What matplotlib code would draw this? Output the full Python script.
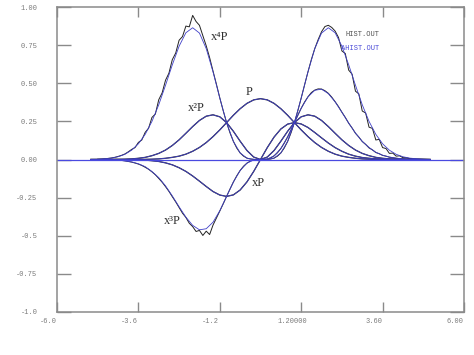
import numpy as np
import matplotlib
matplotlib.use('Agg')
import matplotlib.pyplot as plt
from matplotlib.transforms import ScaledTranslation

# analytic curves (AHIST.OUT), x from -5 to 5 step 0.2
ax_x = np.round(np.linspace(-5.0, 5.0, 51), 1)
p_vals = [0.000, 0.000, 0.000, 0.000, 0.000, 0.000, 0.000, 0.001, 0.001, 0.002,
          0.004, 0.008, 0.014, 0.022, 0.035, 0.054, 0.079, 0.111, 0.150, 0.194,
          0.242, 0.290, 0.333, 0.368, 0.391, 0.399, 0.391, 0.368, 0.333, 0.290,
          0.242, 0.194, 0.150, 0.111, 0.079, 0.054, 0.035, 0.022, 0.014, 0.008,
          0.004, 0.002, 0.001, 0.001, 0.000, 0.000, 0.000, 0.000, 0.000, 0.000,
          0.000]
xp_vals = [-0.000, -0.000, -0.000, -0.000, -0.000, -0.001, -0.001, -0.002, -0.004, -0.008,
           -0.013, -0.022, -0.035, -0.054, -0.078, -0.108, -0.142, -0.177, -0.210, -0.233,
           -0.242, -0.232, -0.200, -0.147, -0.078, 0.000, 0.078, 0.147, 0.200, 0.232,
           0.242, 0.233, 0.210, 0.177, 0.142, 0.108, 0.078, 0.054, 0.035, 0.022,
           0.013, 0.008, 0.004, 0.002, 0.001, 0.001, 0.000, 0.000, 0.000, 0.000,
           0.000]
x2p_vals = [0.000, 0.000, 0.000, 0.001, 0.001, 0.002, 0.004, 0.008, 0.014, 0.025,
            0.040, 0.062, 0.092, 0.129, 0.172, 0.216, 0.256, 0.284, 0.293, 0.280,
            0.242, 0.185, 0.120, 0.059, 0.016, 0.000, 0.016, 0.059, 0.120, 0.185,
            0.242, 0.280, 0.293, 0.284, 0.256, 0.216, 0.172, 0.129, 0.092, 0.062,
            0.040, 0.025, 0.014, 0.008, 0.004, 0.002, 0.001, 0.001, 0.000, 0.000,
            0.000]
x3p_vals = [-0.000, -0.001, -0.001, -0.002, -0.004, -0.009, -0.016, -0.028, -0.047, -0.079,
            -0.119, -0.173, -0.239, -0.310, -0.378, -0.432, -0.461, -0.454, -0.411, -0.336,
            -0.242, -0.148, -0.072, -0.024, -0.003, 0.000, 0.003, 0.024, 0.072, 0.148,
            0.242, 0.336, 0.411, 0.454, 0.461, 0.432, 0.378, 0.310, 0.239, 0.173,
            0.119, 0.079, 0.047, 0.028, 0.016, 0.009, 0.004, 0.002, 0.001, 0.001,
            0.000]
x4p_vals = [0.001, 0.002, 0.005, 0.009, 0.018, 0.034, 0.061, 0.103, 0.165, 0.250,
            0.359, 0.487, 0.621, 0.743, 0.831, 0.864, 0.829, 0.727, 0.575, 0.403,
            0.242, 0.119, 0.043, 0.009, 0.001, 0.000, 0.001, 0.009, 0.043, 0.119,
            0.242, 0.403, 0.575, 0.727, 0.829, 0.864, 0.831, 0.743, 0.621, 0.487,
            0.359, 0.250, 0.165, 0.103, 0.061, 0.034, 0.018, 0.009, 0.005, 0.002,
            0.001]

# histogram curves (HIST.OUT), x from -4.8 to 5.0 step 0.1
hist_x = np.round(np.linspace(-4.8, 5.0, 99), 1)
hist_x4p = [0.002, 0.003, 0.005, 0.007, 0.010, 0.014, 0.020, 0.027, 0.036, 0.050,
            0.066, 0.078, 0.112, 0.128, 0.178, 0.205, 0.276, 0.298, 0.392, 0.437,
            0.520, 0.566, 0.655, 0.698, 0.782, 0.806, 0.875, 0.870, 0.945, 0.905,
            0.880, 0.812, 0.745, 0.668, 0.580, 0.494, 0.404, 0.320, 0.242, 0.175,
            0.119, 0.075, 0.043, 0.022, 0.009, 0.003, 0.001, 0.000, 0.000, 0.000,
            0.001, 0.003, 0.009, 0.022, 0.043, 0.075, 0.118, 0.175, 0.242, 0.319,
            0.403, 0.490, 0.575, 0.656, 0.727, 0.786, 0.838, 0.872, 0.880, 0.866,
            0.842, 0.800, 0.712, 0.695, 0.586, 0.560, 0.448, 0.430, 0.318, 0.305,
            0.212, 0.204, 0.128, 0.132, 0.078, 0.072, 0.040, 0.042, 0.022, 0.024,
            0.012, 0.012, 0.006, 0.006, 0.003, 0.003, 0.002, 0.001, 0.000]
hist_x3p = [-0.000, -0.001, -0.001, -0.001, -0.002, -0.003, -0.004, -0.006, -0.009, -0.013,
            -0.017, -0.023, -0.030, -0.039, -0.051, -0.064, -0.081, -0.100, -0.124, -0.149,
            -0.178, -0.209, -0.244, -0.278, -0.315, -0.352, -0.380, -0.418, -0.440, -0.472,
            -0.465, -0.498, -0.470, -0.492, -0.430, -0.384, -0.338, -0.291, -0.242, -0.194,
            -0.148, -0.107, -0.072, -0.044, -0.024, -0.010, -0.003, -0.000, 0.000, 0.000,
            0.003, 0.010, 0.024, 0.044, 0.072, 0.107, 0.148, 0.194, 0.242, 0.290,
            0.336, 0.377, 0.411, 0.439, 0.455, 0.463, 0.462, 0.451, 0.434, 0.409,
            0.379, 0.347, 0.310, 0.276, 0.238, 0.207, 0.172, 0.147, 0.118, 0.099,
            0.076, 0.063, 0.046, 0.038, 0.027, 0.022, 0.015, 0.012, 0.008, 0.006,
            0.004, 0.003, 0.002, 0.001, 0.001, 0.000, 0.000, 0.000, 0.000]

xticks = [-6.0, -3.6, -1.2, 1.2, 3.6, 6.0]
xtick_labels = ['-6.0', '-3.6', '-1.2', '1.20000', '3.60', '6.00']
yticks = [1.0, 0.75, 0.5, 0.25, 0.0, -0.25, -0.5, -0.75, -1.0]
ytick_labels = ['1.00', '0.75', '0.50', '0.25', '0.00', '-0.25', '-0.5', '-0.75', '-1.0']

labels = [('x\u2074P', -1.2, 0.80), ('x\u00b2P', -1.9, 0.34), ('P', -0.34, 0.44),
          ('xP', -0.05, -0.155), ('x\u00b3P', -2.6, -0.40)]

blue = '#4040c8'
black = '#222222'
gray = '#8a8a8a'

fig = plt.figure(figsize=(4.74, 3.55), dpi=100)
ax = fig.add_axes([57 / 474, 43 / 355, 407 / 474, 305 / 355])

# histogram data underneath
for vals in [p_vals, xp_vals, x2p_vals]:
    ax.plot(ax_x, vals, color=black, linewidth=0.9)
ax.plot(hist_x, hist_x4p, color=black, linewidth=0.7)
ax.plot(hist_x, hist_x3p, color=black, linewidth=0.7)

# analytic curves on top
for vals in [p_vals, xp_vals, x2p_vals, x3p_vals, x4p_vals]:
    ax.plot(ax_x, vals, color=blue, linewidth=0.6)
ax.axhline(0.0, color='#4a4ae0', linewidth=0.9)

for txt, x, y in labels:
    ax.text(x, y, txt, fontsize=9, family=['Liberation Serif', 'DejaVu Serif'],
            color='#303030', ha='center', va='center')

ax.set_xlim(-6, 6)
ax.set_ylim(-1, 1)
ax.set_xticks(xticks)
ax.set_xticklabels(xtick_labels)
ax.set_yticks(yticks)
ax.set_yticklabels(ytick_labels)

for s in ax.spines.values():
    s.set_color(gray)
    s.set_linewidth(1.1)

ax.tick_params(axis='x', direction='in', length=7, width=1.0, color=gray,
               top=True, labelsize=5, labelcolor='#7a7a7a', pad=4)
ax.tick_params(axis='y', direction='in', length=10, width=1.0, color=gray,
               right=True, labelsize=5, labelcolor='#7a7a7a', pad=14)
for lab in ax.get_xticklabels() + ax.get_yticklabels():
    lab.set_family(['Liberation Mono', 'DejaVu Sans Mono'])
for lab in ax.get_xticklabels():
    lab.set_transform(lab.get_transform() + ScaledTranslation(-9 / 100, 0, fig.dpi_scale_trans))

fig.text(345 / 474, 1 - 35 / 355, 'HIST.OUT', fontsize=5, color='#505050',
         family=['Liberation Mono', 'DejaVu Sans Mono'], va='center')
fig.text(341 / 474, 1 - 48 / 355, 'AHIST.OUT', fontsize=5, color='#4a4ad8',
         family=['Liberation Mono', 'DejaVu Sans Mono'], va='center')

fig.savefig('out.png', dpi=100)
